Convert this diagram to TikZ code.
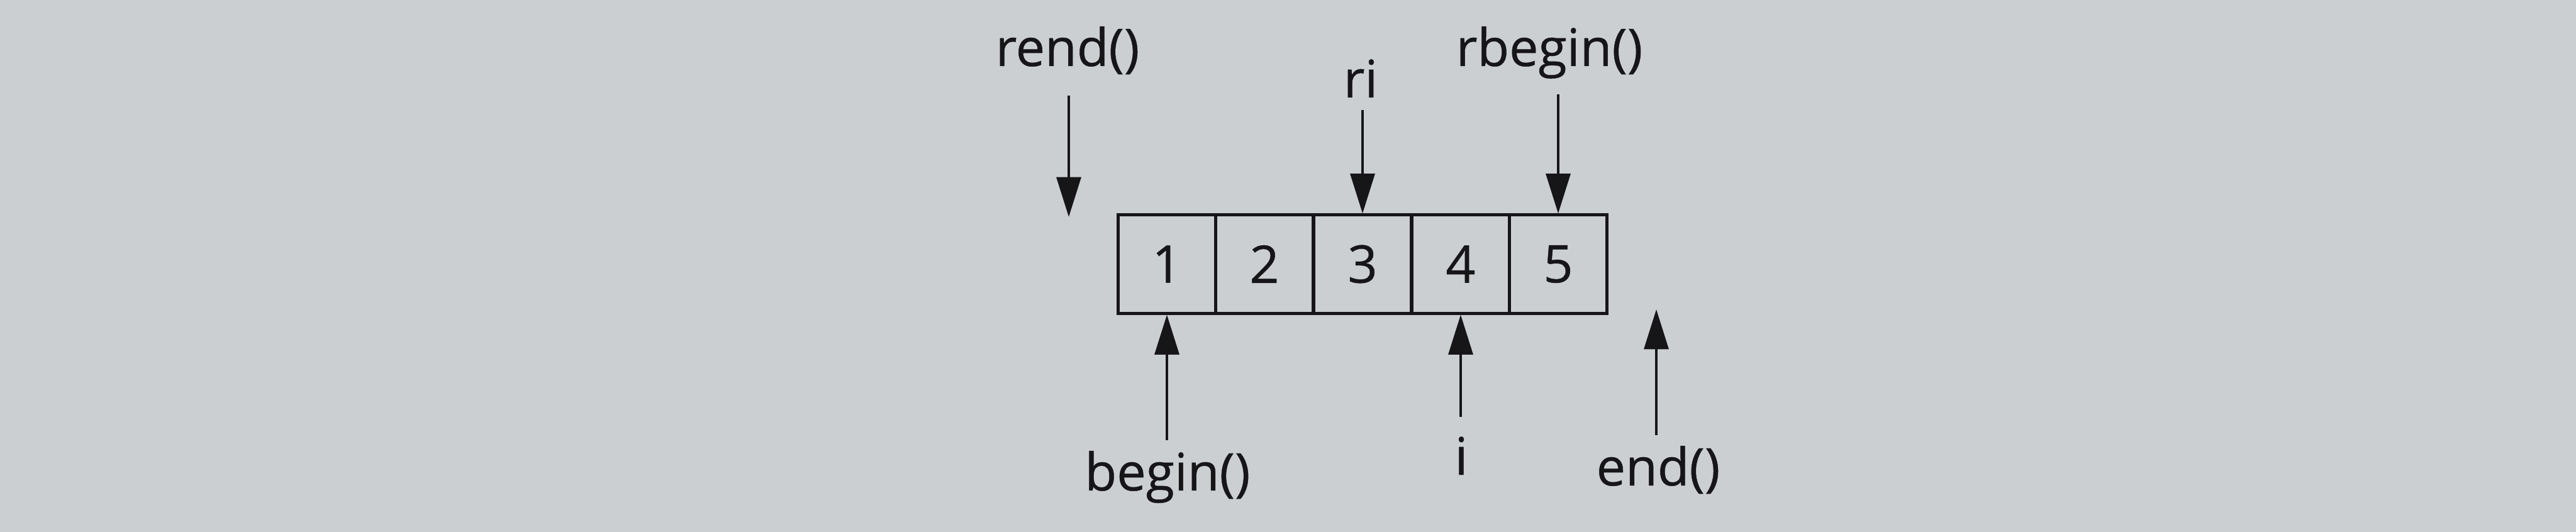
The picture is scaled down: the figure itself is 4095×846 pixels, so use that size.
\documentclass[tikz,border=0pt]{standalone}
\usepackage{fontspec}
\setmainfont{Open Sans}
\newfontfamily\lblfont{Open Sans}[FakeBold=0.6]
\usetikzlibrary{arrows.meta}
\definecolor{paper}{RGB}{204,207,209}
\definecolor{ink}{RGB}{22,22,25}
\begin{document}
\begin{tikzpicture}[x=0.01cm,y=-0.01cm,
  cell/.style={draw=ink,line width=1.4pt,minimum width=1.55cm,minimum height=1.56cm,inner sep=0pt,font=\lblfont\fontsize{23.5}{23.5}\selectfont,text=ink},
  lbl/.style={anchor=base,inner sep=0pt,font=\lblfont\fontsize{23.5}{23.5}\selectfont,text=ink},
  ptr/.style={draw=ink,line width=1.2pt,-{Triangle[length=18pt,width=11pt]}}]
\fill[paper] (0,0) rectangle (4095,846);
\useasboundingbox (0,0) rectangle (4095,846);
% cells
\node[cell] (c1) at (1855,420) {1};
\node[cell] (c2) at (2010,420) {2};
\node[cell] (c3) at (2166,420) {3};
\node[cell] (c4) at (2322,420) {4};
\node[cell] (c5) at (2477,420) {5};
% labels
\node[lbl] (rend) at (1697,105) {rend()};
\node[lbl] (ri) at (2163,155) {ri};
\node[lbl] (rbegin) at (2463,105) {rbegin()};
\node[lbl] (begin) at (1856,780) {begin()};
\node[lbl] (iit) at (2323,755) {i};
\node[lbl] (end) at (2636,772) {end()};
% arrow ends
\coordinate (rendtop) at (1699,152);
\coordinate (rendtip) at (1699,345);
\coordinate (ritop) at (2166,175);
\coordinate (rbtop) at (2477,150);
\coordinate (bgbot) at (1855,700);
\coordinate (ibot) at (2322,663);
\coordinate (endbot) at (2633,692);
\coordinate (endtip) at (2633,492);
% arrows
\draw[ptr] (rendtop) -- (rendtip);
\draw[ptr] (ritop) -- (c3.north);
\draw[ptr] (rbtop) -- (c5.north);
\draw[ptr] (bgbot) -- (c1.south);
\draw[ptr] (ibot) -- (c4.south);
\draw[ptr] (endbot) -- (endtip);
\end{tikzpicture}
\end{document}
